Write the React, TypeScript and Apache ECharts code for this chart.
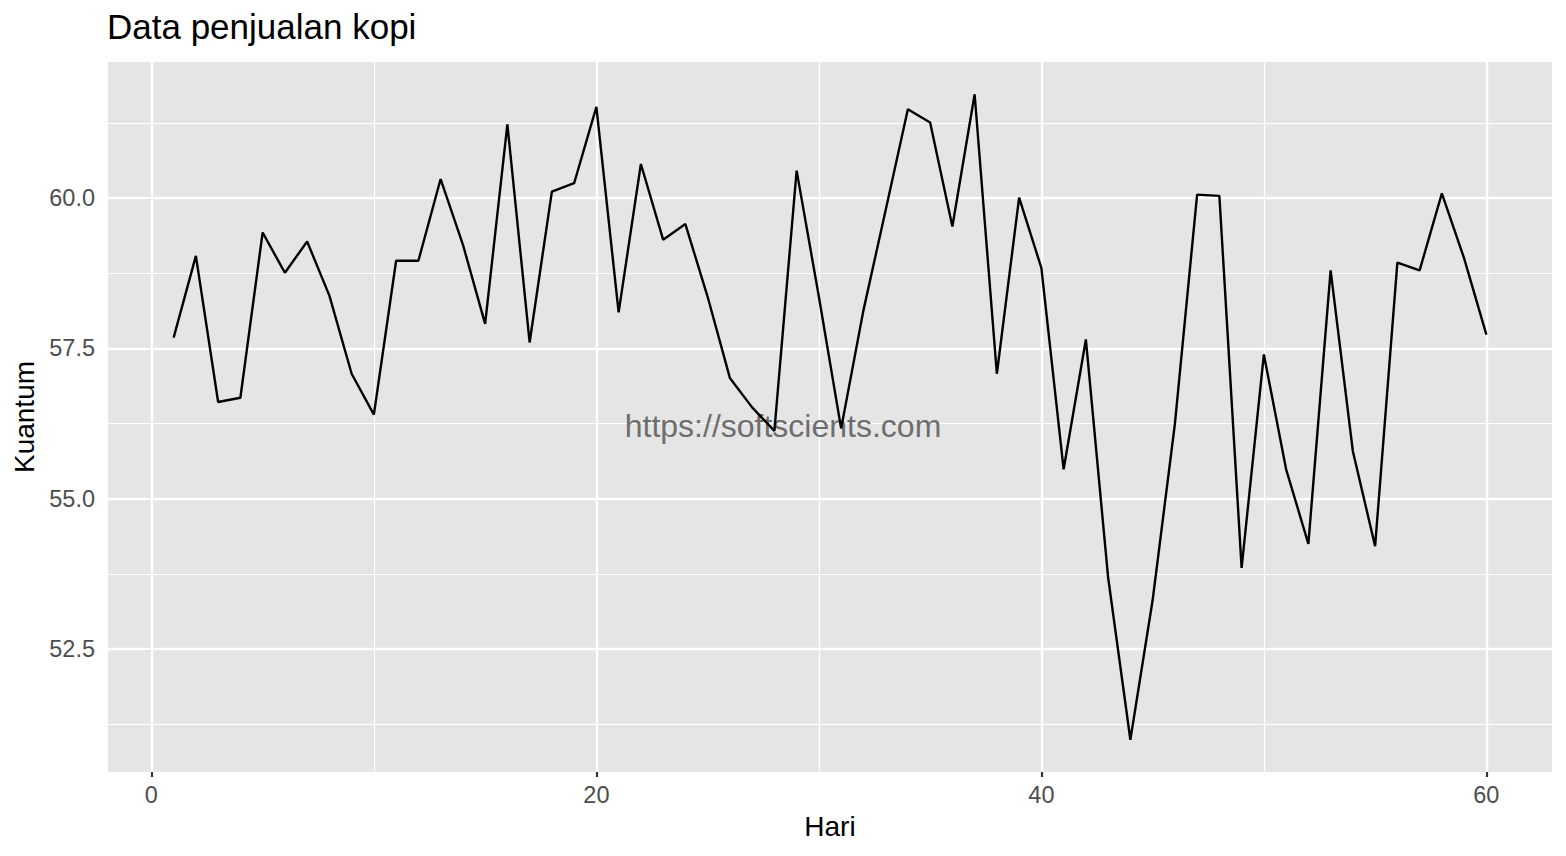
import React, { useEffect, useRef } from "react";
import * as echarts from "echarts";

const TITLE = "Data penjualan kopi";
const X_NAME = "Hari";
const Y_NAME = "Kuantum";
const WATERMARK = "https://softscients.com";

const hari = [
  1, 2, 3, 4, 5, 6, 7, 8, 9, 10,
  11, 12, 13, 14, 15, 16, 17, 18, 19, 20,
  21, 22, 23, 24, 25, 26, 27, 28, 29, 30,
  31, 32, 33, 34, 35, 36, 37, 38, 39, 40,
  41, 42, 43, 44, 45, 46, 47, 48, 49, 50,
  51, 52, 53, 54, 55, 56, 57, 58, 59, 60,
];

const kuantum = [
  57.68, 59.04, 56.61, 56.68, 59.43, 58.76, 59.28, 58.38, 57.08, 56.40,
  58.96, 58.96, 60.32, 59.23, 57.91, 61.23, 57.60, 60.11, 60.25, 61.52,
  58.10, 60.57, 59.31, 59.57, 58.36, 57.01, 56.52, 56.13, 60.46, 58.36,
  56.17, 58.13, 59.80, 61.48, 61.26, 59.53, 61.73, 57.08, 60.01, 58.84,
  55.49, 57.65, 53.69, 50.99, 53.31, 56.24, 60.06, 60.04, 53.85, 57.40,
  55.49, 54.25, 58.80, 55.79, 54.21, 58.93, 58.80, 60.08, 59.00, 57.73,
];

const xMajorTicks = [0, 20, 40, 60];
const xMinorTicks = [10, 30, 50];
const yMajorTicks = [52.5, 55, 57.5, 60];
const yMinorTicks = [51.25, 53.75, 56.25, 58.75, 61.25];

const FONT = "'Liberation Sans', Arial, Helvetica, sans-serif";

function expandRange(values: number[], mult = 0.05): [number, number] {
  const lo = Math.min(...values);
  const hi = Math.max(...values);
  const d = (hi - lo) * mult;
  return [lo - d, hi + d];
}

export default function App() {
  const ref = useRef<HTMLDivElement>(null);

  useEffect(() => {
    if (!ref.current) return;
    const chart = echarts.init(ref.current, undefined, { renderer: "svg" });
    const [xMin, xMax] = expandRange(hari);
    const [yMin, yMax] = expandRange(kuantum);
    const points = hari.map((x, i) => [x, kuantum[i]]);

    const major = { color: "#FFFFFF", width: 2.4, type: "solid" as const };
    const minor = { color: "#FFFFFF", width: 1.2, type: "solid" as const };

    const gridLines = [
      ...xMinorTicks.map((v) => ({ xAxis: v, lineStyle: minor })),
      ...yMinorTicks.map((v) => ({ yAxis: v, lineStyle: minor })),
      ...xMajorTicks.map((v) => ({ xAxis: v, lineStyle: major })),
      ...yMajorTicks.map((v) => ({ yAxis: v, lineStyle: major })),
    ];

    chart.setOption({
      animation: false,
      backgroundColor: "#FFFFFF",
      textStyle: { fontFamily: FONT },
      title: {
        text: TITLE,
        left: 107,
        top: 9,
        padding: 0,
        textStyle: {
          fontFamily: FONT,
          fontSize: 35,
          fontWeight: "normal",
          color: "#000000",
        },
      },
      grid: {
        left: 108,
        right: 14,
        top: 62,
        bottom: 84,
        show: true,
        backgroundColor: "#E5E5E5",
        borderWidth: 0,
      },
      xAxis: {
        type: "value",
        min: xMin,
        max: xMax,
        name: X_NAME,
        nameLocation: "middle",
        nameGap: 40,
        nameTextStyle: { fontFamily: FONT, fontSize: 28, color: "#000000" },
        axisLine: { show: false },
        splitLine: { show: false },
        axisTick: {
          show: true,
          customValues: xMajorTicks,
          length: 5,
          lineStyle: { color: "#333333", width: 2.2 },
        },
        axisLabel: {
          customValues: xMajorTicks,
          fontFamily: FONT,
          fontSize: 23.5,
          color: "#4D4D4D",
          margin: 11,
          formatter: (v: number) => String(v),
        },
      },
      yAxis: {
        type: "value",
        min: yMin,
        max: yMax,
        name: Y_NAME,
        nameLocation: "middle",
        nameGap: 70,
        nameTextStyle: { fontFamily: FONT, fontSize: 28, color: "#000000" },
        axisLine: { show: false },
        splitLine: { show: false },
        axisTick: {
          show: true,
          customValues: yMajorTicks,
          length: 5,
          lineStyle: { color: "#333333", width: 2.2 },
        },
        axisLabel: {
          customValues: yMajorTicks,
          fontFamily: FONT,
          fontSize: 23.5,
          color: "#4D4D4D",
          margin: 13,
          formatter: (v: number) => v.toFixed(1),
        },
      },
      graphic: [
        {
          type: "text",
          x: 783,
          y: 426,
          z: 2,
          silent: true,
          style: {
            text: WATERMARK,
            fontFamily: FONT,
            fontSize: 32,
            fill: "#6E6E6E",
            textAlign: "center",
            textVerticalAlign: "middle",
          },
        },
      ],
      series: [
        {
          type: "line",
          data: points,
          z: 1,
          silent: true,
          symbol: "none",
          lineStyle: { opacity: 0, width: 0 },
          markLine: {
            silent: true,
            z: 1,
            symbol: ["none", "none"],
            label: { show: false },
            emphasis: { disabled: true },
            data: gridLines,
          },
        },
        {
          type: "line",
          data: points,
          z: 3,
          silent: true,
          symbol: "none",
          showSymbol: false,
          lineStyle: { color: "#000000", width: 2.4 },
        },
      ],
    });

    return () => chart.dispose();
  }, []);

  return (
    <div
      ref={ref}
      style={{ position: "fixed", left: 0, top: 0, width: 1566, height: 856 }}
    />
  );
}
